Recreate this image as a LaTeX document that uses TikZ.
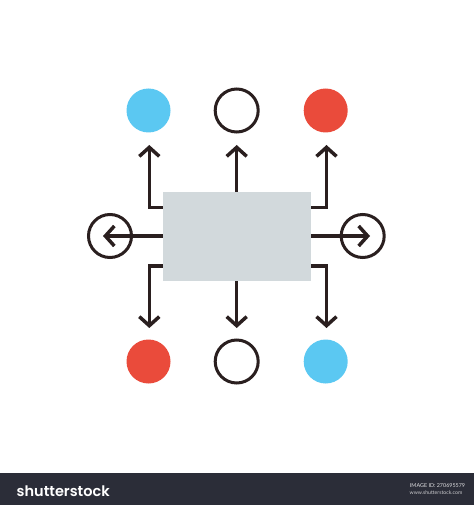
\documentclass[tikz,border=0pt]{standalone}
\usepackage{fontspec}
\setmainfont{Poppins}
\newfontfamily\logofont{Poppins SemiBold}
\newfontfamily\barfont{Lato}
\usetikzlibrary{arrows.meta}
\definecolor{lineC}{HTML}{2A1F1F}
\definecolor{blueC}{HTML}{5BC8F2}
\definecolor{redC}{HTML}{EA4B3B}
\definecolor{rectC}{HTML}{D2D9DC}
\definecolor{barC}{HTML}{2B2D38}
\tikzset{
  fillcirc/.style={circle, minimum size=44pt, inner sep=0pt},
  ringcirc/.style={circle, draw=lineC, line width=3pt, minimum size=43pt, inner sep=0pt},
  flow/.style={draw=lineC, line width=3.5pt, line cap=butt,
    -{Straight Barb[length=9pt,width=20pt,line width=3.5pt]}},
  flowjoin/.style={line join=miter}
}
\begin{document}
\begin{tikzpicture}[x=1pt,y=-1pt]
\useasboundingbox[fill=white] (0,0) rectangle (474,505);
% central block
\node[fill=rectC, minimum width=148pt, minimum height=89pt, inner sep=0pt] (box) at (237,236.5) {};
% top circles
\node[fillcirc, fill=blueC] (tl) at (148.5,110.5) {};
\node[ringcirc] (tc) at (236.7,110.5) {};
\node[fillcirc, fill=redC] (tr) at (325.7,110.5) {};
% bottom circles
\node[fillcirc, fill=redC] (bl) at (148.5,361.5) {};
\node[ringcirc] (bc) at (236.7,361.5) {};
\node[fillcirc, fill=blueC] (br) at (325.7,361.5) {};
% side circles
\node[ringcirc] (ml) at (110,236) {};
\node[ringcirc] (mr) at (362.7,236) {};
% arrow end coordinates
\coordinate (tlT) at (149.3,145);
\coordinate (tcT) at (236.7,145);
\coordinate (trT) at (326.5,145);
\coordinate (blT) at (149.3,328);
\coordinate (bcT) at (236.7,328);
\coordinate (brT) at (326.5,328);
\coordinate (mlT) at (103,236);
\coordinate (mrT) at (370,236);
% connectors
\draw[flow, flowjoin] (box.west |- 0,207.7) -| (tlT);
\draw[flow] (box.north -| tcT) -- (tcT);
\draw[flow, flowjoin] (box.east |- 0,207.7) -| (trT);
\draw[flow, flowjoin] (box.west |- 0,266) -| (blT);
\draw[flow] (box.south -| bcT) -- (bcT);
\draw[flow, flowjoin] (box.east |- 0,266) -| (brT);
\draw[flow] (box.west |- mlT) -- (mlT);
\draw[flow] (box.east |- mrT) -- (mrT);
% bottom bar
\fill[barC] (0,473) rectangle (474,505);
\node[anchor=base west, text=white, font=\logofont\fontsize{14.5}{15}\selectfont, inner sep=0pt] (logo) at (16.5,496) {shutterstock};
\node[anchor=base, text=white!85!barC, font=\barfont\fontsize{5.4}{7}\selectfont, inner sep=0pt] (imgid) at (437.5,487.5) {IMAGE ID: 270695579};
\node[anchor=base, text=white!75!barC, font=\barfont\fontsize{5.2}{7}\selectfont, inner sep=0pt] (www) at (436,494.5) {www.shutterstock.com};
\end{tikzpicture}
\end{document}
